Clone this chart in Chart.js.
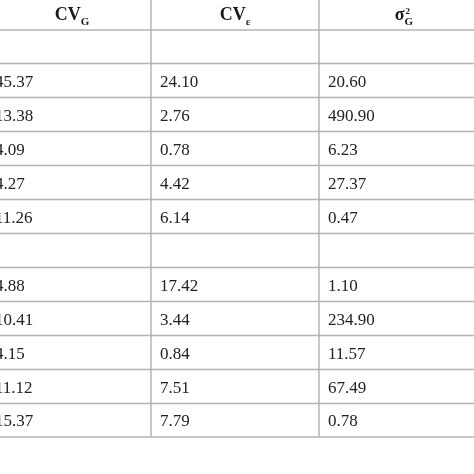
<!DOCTYPE html>
<html>
<head>
<meta charset="utf-8">
<script src="https://cdn.jsdelivr.net/npm/chart.js@4"></script>
<style>
  body { margin: 0; background: #fff; }
  #wrap { width: 474px; height: 474px; }
</style>
</head>
<body>
<div id="wrap"><canvas id="tbl"></canvas></div>
<script>
// table data (first column is cut off in the reference)
const headers = ['CV', 'CV', 'σ'];
const headerSubs = ['G', 'ε', 'G'];
const colCVG = ['', '45.37', '13.38', '4.09', '4.27', '11.26', '', '4.88', '10.41', '4.15', '11.12', '15.37'];
const colCVE = ['', '24.10', '2.76', '0.78', '4.42', '6.14', '', '17.42', '3.44', '0.84', '7.51', '7.79'];
const colSigma = ['', '20.60', '490.90', '6.23', '27.37', '0.47', '', '1.10', '234.90', '11.57', '67.49', '0.78'];

// layout in pixel units of the hidden scales
const colEdges = [-160, 151, 319, 490];
const rowEdges = [-10, 30, 63.5, 97.5, 131.5, 165.5, 199.5, 233.5, 267.5, 301.5, 335.5, 369.5, 403.5, 437];
const textLeft = [-5, 160, 328];

const tablePlugin = {
  id: 'table',
  afterDraw(chart) {
    const { ctx, scales: { x, y } } = chart;
    const px = v => x.getPixelForValue(v);
    const py = v => y.getPixelForValue(v);
    ctx.save();
    ctx.strokeStyle = '#b4b4b4';
    ctx.lineWidth = 1.5;
    rowEdges.slice(1).forEach(r => {
      ctx.beginPath(); ctx.moveTo(px(-10), py(r)); ctx.lineTo(px(484), py(r)); ctx.stroke();
    });
    colEdges.slice(1, 3).forEach(c => {
      ctx.beginPath(); ctx.moveTo(px(c), py(-10)); ctx.lineTo(px(c), py(437)); ctx.stroke();
    });

    // header
    const centers = [72, 235, 404];
    ctx.fillStyle = '#1a1a1a';
    ctx.textBaseline = 'alphabetic';
    headers.forEach((h, i) => {
      ctx.font = 'bold 18px "Liberation Serif"';
      const w1 = ctx.measureText(h).width;
      ctx.font = 'bold 11px "Liberation Serif"';
      const w2 = ctx.measureText(headerSubs[i]).width;
      const start = centers[i] - (w1 + w2) / 2;
      ctx.font = 'bold 18px "Liberation Serif"';
      ctx.textAlign = 'left';
      ctx.fillText(h, px(start), py(20));
      ctx.font = 'bold 11px "Liberation Serif"';
      ctx.fillText(headerSubs[i], px(start + w1), py(25));
      if (i === 2) {
        ctx.font = 'bold 9px "Liberation Serif"';
        ctx.fillText('2', px(start + w1 + 1), py(14));
      }
    });

    // body cells
    ctx.font = '17px "Liberation Serif"';
    ctx.fillStyle = '#222';
    ctx.textAlign = 'left';
    [colCVG, colCVE, colSigma].forEach((col, c) => {
      col.forEach((v, r) => {
        if (!v) return;
        const mid = (rowEdges[r + 1] + rowEdges[r + 2]) / 2;
        ctx.fillText(v, px(textLeft[c]), py(mid + 6));
      });
    });
    ctx.restore();
  }
};

new Chart(document.getElementById('tbl'), {
  type: 'scatter',
  data: { datasets: [{ data: [] }] },
  options: {
    responsive: true,
    maintainAspectRatio: false,
    animation: false,
    layout: { padding: 0 },
    plugins: { legend: { display: false }, tooltip: { enabled: false } },
    scales: {
      x: { type: 'linear', min: 0, max: 474, display: false },
      y: { type: 'linear', min: 0, max: 474, reverse: true, display: false }
    }
  },
  plugins: [tablePlugin]
});
</script>
</body>
</html>
